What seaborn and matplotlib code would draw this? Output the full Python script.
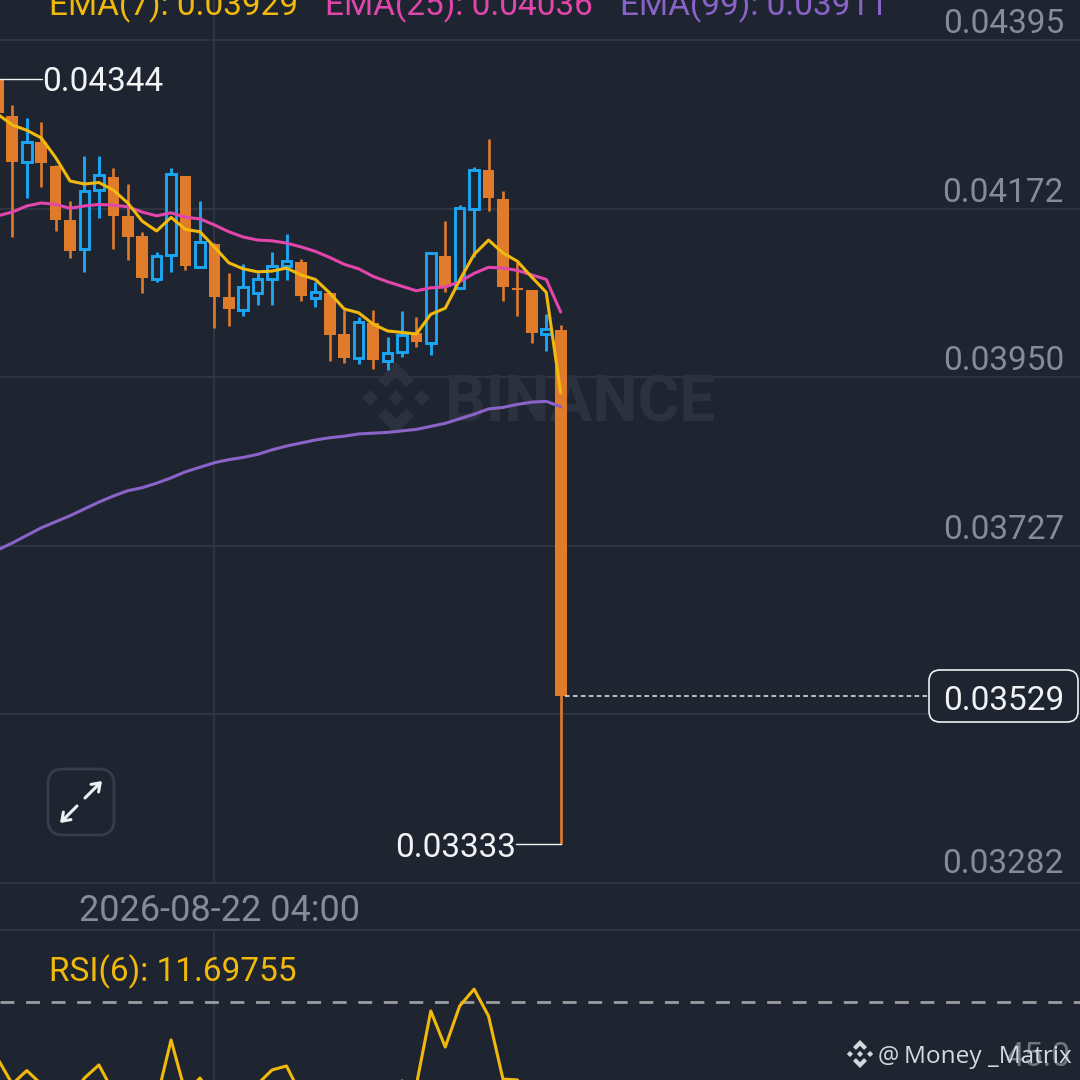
import numpy as np
import pandas as pd
import matplotlib
matplotlib.use("Agg")
import matplotlib.pyplot as plt
from matplotlib.patches import FancyBboxPatch, Polygon
import seaborn as sns

BG = "#1f2530"
GRID = "#303743"
GRAY = "#848c98"
ORANGE = "#e07b2c"
BLUE = "#1ca5f2"
GOLD = "#f0b90b"
PINK = "#e245ab"
PURPLE = "#8a63c9"
FS = 24

opens = [0.04342, 0.04295, 0.04234, 0.04260, 0.04229, 0.04157, 0.04119, 0.04197, 0.04214, 0.04163,
         0.04136, 0.04079, 0.04111, 0.04215, 0.04095, 0.04126, 0.04056, 0.04039, 0.04061, 0.04079,
         0.04097, 0.04102, 0.04054, 0.04061, 0.04007, 0.03975, 0.04021, 0.03971, 0.03983, 0.04008,
         0.03995, 0.04110, 0.04068, 0.04172, 0.04223, 0.04185, 0.04068, 0.04065, 0.04007, 0.04012]
highs = [0.04344, 0.04309, 0.04292, 0.04287, 0.04230, 0.04182, 0.04242, 0.04242, 0.04226, 0.04205,
         0.04142, 0.04115, 0.04226, 0.04215, 0.04182, 0.04127, 0.04087, 0.04099, 0.04087, 0.04115,
         0.04139, 0.04106, 0.04076, 0.04061, 0.04039, 0.04029, 0.04039, 0.04003, 0.04037, 0.04029,
         0.04114, 0.04156, 0.04177, 0.04227, 0.04264, 0.04196, 0.04102, 0.04065, 0.04033, 0.04019]
lows = [0.04292, 0.04135, 0.04186, 0.04201, 0.04143, 0.04107, 0.04089, 0.04160, 0.04119, 0.04105,
        0.04061, 0.04076, 0.04089, 0.04091, 0.04095, 0.04015, 0.04017, 0.04031, 0.04045, 0.04045,
        0.04078, 0.04050, 0.04043, 0.03971, 0.03969, 0.03967, 0.03961, 0.03959, 0.03976, 0.03990,
        0.03979, 0.04062, 0.04066, 0.04108, 0.04169, 0.04050, 0.04031, 0.03995, 0.03984, 0.03333]
closes = [0.04299, 0.04234, 0.04260, 0.04233, 0.04157, 0.04116, 0.04196, 0.04217, 0.04163, 0.04135,
          0.04081, 0.04110, 0.04218, 0.04097, 0.04128, 0.04056, 0.04040, 0.04069, 0.04079, 0.04097,
          0.04103, 0.04057, 0.04062, 0.04005, 0.03975, 0.04023, 0.03972, 0.03982, 0.04005, 0.03996,
          0.04114, 0.04069, 0.04173, 0.04223, 0.04186, 0.04069, 0.04065, 0.04008, 0.04013, 0.03529]

ema7 = [0.04297, 0.04283, 0.04276, 0.04266, 0.04240, 0.04209, 0.04205, 0.04207, 0.04197, 0.04180,
        0.04156, 0.04143, 0.04161, 0.04145, 0.04142, 0.04122, 0.04101, 0.04093, 0.04089, 0.04090,
        0.04094, 0.04085, 0.04079, 0.04061, 0.04040, 0.04035, 0.04020, 0.04011, 0.04009, 0.04007,
        0.04033, 0.04041, 0.04078, 0.04112, 0.04131, 0.04114, 0.04103, 0.04082, 0.04062, 0.03929]
ema25 = [0.04163, 0.04168, 0.04176, 0.04180, 0.04178, 0.04173, 0.04176, 0.04178, 0.04177, 0.04175,
         0.04168, 0.04163, 0.04167, 0.04161, 0.04159, 0.04151, 0.04142, 0.04135, 0.04131, 0.04130,
         0.04127, 0.04122, 0.04116, 0.04108, 0.04099, 0.04093, 0.04083, 0.04076, 0.04070, 0.04064,
         0.04068, 0.04069, 0.04076, 0.04087, 0.04095, 0.04094, 0.04091, 0.04085, 0.04079, 0.04036]
ema99 = [0.03722, 0.03731, 0.03741, 0.03751, 0.03759, 0.03767, 0.03776, 0.03785, 0.03793, 0.03800,
         0.03804, 0.03810, 0.03817, 0.03825, 0.03831, 0.03837, 0.03841, 0.03844, 0.03848, 0.03854,
         0.03859, 0.03863, 0.03867, 0.03870, 0.03872, 0.03875, 0.03876, 0.03877, 0.03879, 0.03881,
         0.03885, 0.03889, 0.03895, 0.03901, 0.03908, 0.03910, 0.03914, 0.03917, 0.03918, 0.03911]
rsi6 = [42.6, 30.6, 37.1, 30.6, 23.9, 24.4, 33.5, 39.8, 26.8, 20.6,
        19.1, 23.0, 51.8, 26.3, 33.5, 23.9, 23.0, 25.4, 30.6, 37.4,
        39.3, 25.4, 23.9, 15.8, 14.3, 18.2, 17.2, 20.6, 32.1, 30.2,
        65.7, 48.4, 68.1, 76.2, 63.3, 33.0, 32.6, 20.6, 23.0, 11.7]

price_ticks = [0.04395, 0.04172, 0.03950, 0.03727, 0.03505, 0.03282]
price_labels = ["0.04395", "0.04172", "0.03950", "0.03727", "", "0.03282"]
legend_items = [("EMA(7): 0.03929", GOLD, 49), ("EMA(25): 0.04036", PINK, 325), ("EMA(99): 0.03911", PURPLE, 620)]

sns.set_theme(style="dark", rc={"axes.facecolor": BG, "figure.facecolor": BG})
plt.rcParams["font.family"] = ["Roboto", "DejaVu Sans"]

fig = plt.figure(figsize=(10.8, 10.8), dpi=100)
ax = fig.add_axes([0, 1 - 883 / 1080, 1, 883 / 1080])
ax_rsi = fig.add_axes([0, 0, 1, 150 / 1080])
over = fig.add_axes([0, 0, 1, 1], facecolor="none", zorder=5)
over.set_xlim(0, 1080)
over.set_ylim(1080, 0)
over.axis("off")


def draw_logo(target, cx, cy, r, color, z):
    diamond = np.array([[0, -0.22], [0.22, 0], [0, 0.22], [-0.22, 0]])
    for dx in (-0.72, 0, 0.72):
        target.add_patch(Polygon(diamond * r + [cx + dx * r, cy], color=color, lw=0, zorder=z))
    chevron = np.array([[0, -1], [0.5, -0.5], [0.29, -0.29], [0, -0.58], [-0.29, -0.29], [-0.5, -0.5]])
    for sign in (1, -1):
        target.add_patch(Polygon(chevron * [1, sign] * r + [cx, cy], color=color, lw=0, zorder=z))


idx = np.arange(len(opens))
df = pd.DataFrame({"i": idx, "open": opens, "high": highs, "low": lows, "close": closes,
                   "ema7": ema7, "ema25": ema25, "ema99": ema99, "rsi": rsi6})
up = df[df["close"] >= df["open"]]
down = df[df["close"] < df["open"]]

ax.set_xlim(0.145, 74.99)
ax.set_ylim(0.03282, 0.04448)
ax_rsi.set_xlim(0.145, 74.99)
ax_rsi.set_ylim(32.56, 104.6)

for tick in price_ticks:
    ax.axhline(tick, color=GRID, lw=1.3, zorder=1)
ax.axvline(15, color=GRID, lw=1.3, zorder=1)
ax_rsi.axvline(15, color=GRID, lw=1.3, zorder=1)

# watermark
ax.text(445 / 1080, 1 - 398 / 883, "BINANCE", transform=ax.transAxes, color="#2b313d", fontsize=46,
        fontweight="bold", va="center_baseline", ha="left", zorder=1.5)
over_bg = ax.inset_axes([0, 0, 1, 1], facecolor="none", zorder=1.6)
over_bg.set_xlim(0, 1080)
over_bg.set_ylim(883, 0)
over_bg.axis("off")
draw_logo(over_bg, 396, 398, 36, "#2b313d", 1.6)

# candles
ax.vlines(down["i"], down["low"], down["high"], color=ORANGE, lw=1.9, zorder=3)
ax.bar(down["i"], (down["open"] - down["close"]).clip(lower=0.00003), bottom=down["close"],
       width=0.81, color=ORANGE, lw=0, zorder=3)
ax.vlines(up["i"], up["low"], up["open"], color=BLUE, lw=2.1, zorder=3)
ax.vlines(up["i"], up["close"], up["high"], color=BLUE, lw=2.1, zorder=3)
ax.bar(up["i"], up["close"] - up["open"], bottom=up["open"], width=0.66, facecolor=BG,
       edgecolor=BLUE, lw=2.1, zorder=3)

sns.lineplot(data=df, x="i", y="ema99", ax=ax, color=PURPLE, lw=2.2, estimator=None, zorder=4)
sns.lineplot(data=df, x="i", y="ema25", ax=ax, color=PINK, lw=2.2, estimator=None, zorder=4)
sns.lineplot(data=df, x="i", y="ema7", ax=ax, color=GOLD, lw=2.2, estimator=None, zorder=4)

# high / low / last price callouts
ax.text(3.05, highs[0], "0.04344", color="#f2f3f5", fontsize=FS, va="center_baseline", ha="left", zorder=5)
ax.plot([0.145, 3.05], [highs[0], highs[0]], color="#f2f3f5", lw=1, zorder=5)
ax.text(35.9, lows[-1], "0.03333", color="#f2f3f5", fontsize=FS, va="center_baseline", ha="right", zorder=5)
ax.plot([35.9, 39], [lows[-1], lows[-1]], color="#f2f3f5", lw=1, zorder=5)
ax.plot([39.3, 64.5], [closes[-1], closes[-1]], color="#e8e8e8", lw=1.1, ls=(0, (3, 2.2)), zorder=5)

for tick, label in zip(price_ticks, price_labels):
    ax.annotate(label, xy=(1064 / 1080, tick), xycoords=ax.get_yaxis_transform(),
                xytext=(0, 2 if tick == price_ticks[-1] else 0), textcoords="offset points",
                color=GRAY, fontsize=FS, va="bottom", ha="right", zorder=5)

ax_rsi.axhline(70, color="#9b9c9f", lw=2, ls=(0, (5, 4.2)), zorder=2)
sns.lineplot(data=df, x="i", y="rsi", ax=ax_rsi, color=GOLD, lw=2.2, estimator=None, zorder=3)

for a in (ax, ax_rsi):
    a.set_xlabel("")
    a.set_ylabel("")
    a.set_xticks([])
    a.set_yticks([])
    for s in a.spines.values():
        s.set_visible(False)

# legend row and panel text
for label, color, x in legend_items:
    over.text(x, 15, label, color=color, fontsize=FS, va="baseline", ha="left")
over.text(79, 907, "2026-08-22 04:00", color=GRAY, fontsize=FS + 2, va="center_baseline", ha="left")
over.text(49, 968, "RSI(6): 11.69755", color=GOLD, fontsize=FS, va="center_baseline", ha="left")
over.axhline(883, color=GRID, lw=1.3)
over.axhline(930, color=GRID, lw=1.3)

# last price box
over.add_patch(FancyBboxPatch((929, 670), 149, 52, boxstyle="round,pad=0,rounding_size=11",
                              facecolor=BG, edgecolor="#eef0f2", lw=1.2))
over.text(1003.5, 697, "0.03529", color="#f2f3f5", fontsize=FS, va="center_baseline", ha="center")

# expand button
over.add_patch(FancyBboxPatch((48, 769), 66, 66, boxstyle="round,pad=0,rounding_size=15",
                              facecolor="none", edgecolor="#363d49", lw=2))
for tail, head in [((85, 798), (102, 781)), ((77, 806), (60, 823))]:
    over.annotate("", xy=head, xytext=tail,
                  arrowprops=dict(arrowstyle="->,head_length=0.45,head_width=0.32", color="#eef0f2", lw=2.2,
                                  shrinkA=0, shrinkB=0))

# corner watermark
over.text(1070, 1054, "45.0", color="#6f7680", fontsize=FS, va="center_baseline", ha="right")
draw_logo(over, 860, 1054, 14, "#d5d8dc", 6)
over.text(878, 1054, "@", color="#d5d8dc", fontsize=17, va="center_baseline", ha="left", zorder=6, family="Open Sans")
over.text(904, 1054, "Money _Matrix", color="#d5d8dc", fontsize=17.6, va="center_baseline", ha="left", zorder=6,
          family="Open Sans")

fig.savefig("out.png", dpi=100, facecolor=BG)
